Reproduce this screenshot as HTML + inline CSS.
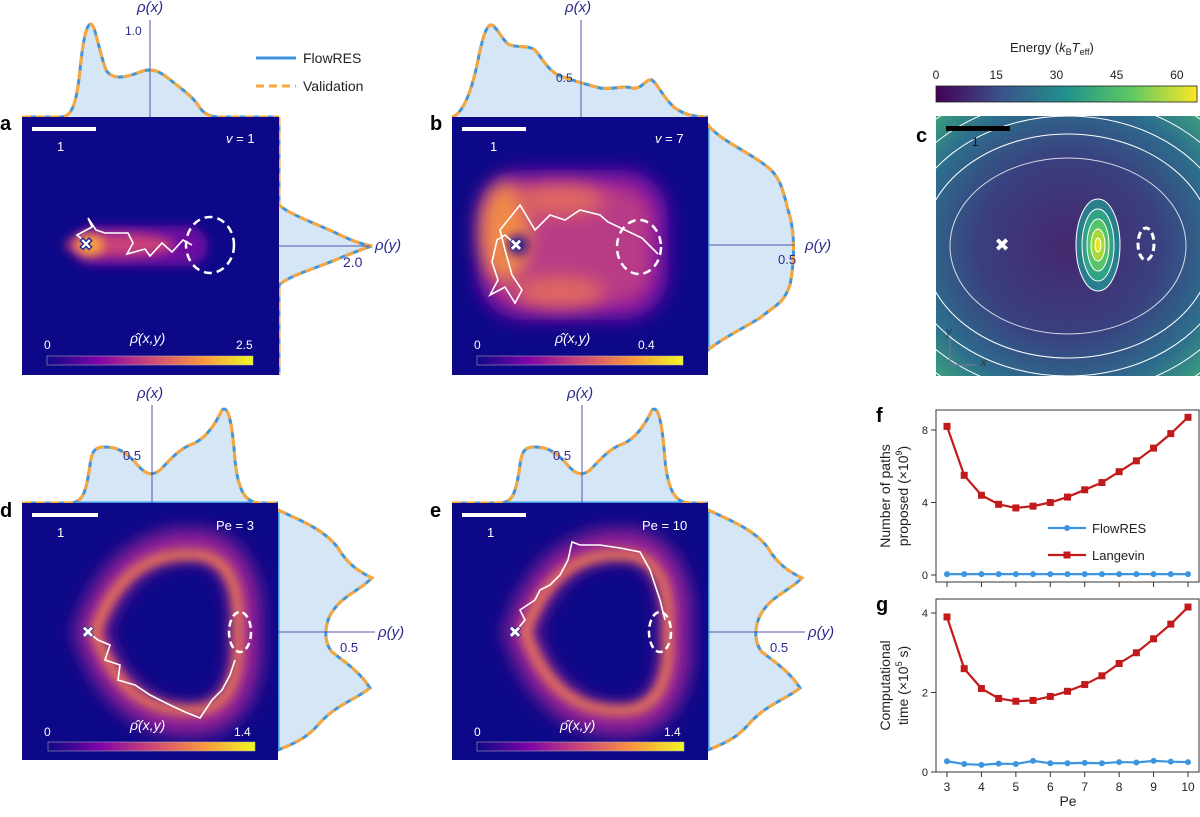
<!DOCTYPE html>
<html><head><meta charset="utf-8"><style>
body{margin:0;background:#fff;font-family:"Liberation Sans",sans-serif}
svg text{font-family:"Liberation Sans",sans-serif}
</style></head><body>
<svg id="fig" width="1200" height="812" viewBox="0 0 1200 812" xmlns="http://www.w3.org/2000/svg">
<defs>
<linearGradient id="plasma" x1="0" x2="1"><stop offset="0" stop-color="#0d0887"/><stop offset="0.25" stop-color="#7e03a8"/><stop offset="0.5" stop-color="#cc4778"/><stop offset="0.75" stop-color="#f89540"/><stop offset="1" stop-color="#f0f921"/></linearGradient>
<linearGradient id="viridis" x1="0" x2="1"><stop offset="0" stop-color="#440154"/><stop offset="0.25" stop-color="#3b528b"/><stop offset="0.5" stop-color="#21918c"/><stop offset="0.75" stop-color="#5ec962"/><stop offset="1" stop-color="#fde725"/></linearGradient>
<radialGradient id="cbg" cx="0.5" cy="0.5" r="0.75"><stop offset="0" stop-color="#45286e"/><stop offset="0.45" stop-color="#3a3f7e"/><stop offset="0.75" stop-color="#2d6d8d"/><stop offset="1" stop-color="#3fae7a"/></radialGradient>
<filter id="blur" x="-50%" y="-50%" width="200%" height="200%"><feGaussianBlur stdDeviation="9"/></filter>
<filter id="blur2" x="-50%" y="-50%" width="200%" height="200%"><feGaussianBlur stdDeviation="5"/></filter>
<clipPath id="ca"><rect x="22" y="117" width="257" height="258"/></clipPath>
<clipPath id="cb"><rect x="452" y="117" width="256" height="258"/></clipPath>
<clipPath id="cc"><rect x="936" y="116" width="264" height="260"/></clipPath>
<clipPath id="cd"><rect x="22" y="503" width="256" height="257"/></clipPath>
<clipPath id="ce"><rect x="452" y="503" width="256" height="257"/></clipPath>
</defs>

<g>
<line x1="256" y1="58" x2="296" y2="58" stroke="#3d95e0" stroke-width="3"/>
<text x="303" y="63" font-size="14" fill="#222">FlowRES</text>
<line x1="256" y1="86" x2="296" y2="86" stroke="#f9a63a" stroke-width="3" stroke-dasharray="8,5"/>
<text x="303" y="91" font-size="14" fill="#222">Validation</text>
</g>

<!-- Panel a -->
<g>
<text x="0" y="130" font-size="20" font-weight="bold">a</text>
<path d="M22,117 L60,117 C70,117 76,110 80,70 C84,30 88,24 91,24 C95,24 100,55 106,70 C112,80 125,78 140,72 C150,68 158,70 168,78 C180,88 192,95 200,108 C205,115 212,117 220,117 L279,117 Z" fill="#d5e6f7"/>
<path d="M22,117 L60,117 C70,117 76,110 80,70 C84,30 88,24 91,24 C95,24 100,55 106,70 C112,80 125,78 140,72 C150,68 158,70 168,78 C180,88 192,95 200,108 C205,115 212,117 220,117 L279,117" fill="none" stroke="#3d95e0" stroke-width="3"/>
<path d="M22,117 L60,117 C70,117 76,110 80,70 C84,30 88,24 91,24 C95,24 100,55 106,70 C112,80 125,78 140,72 C150,68 158,70 168,78 C180,88 192,95 200,108 C205,115 212,117 220,117 L279,117" fill="none" stroke="#f9a63a" stroke-width="3" stroke-dasharray="9,5"/>
<line x1="150" y1="20" x2="150" y2="117" stroke="#5555aa" stroke-width="1"/>
<text x="125" y="35" font-size="12" fill="#2a2a8e">1.0</text>
<text x="137" y="12" font-size="15" font-style="italic" fill="#2a2a8e">ρ(x)</text>
<path d="M279,117 L279,205 C290,215 320,225 340,235 C355,242 365,245 372,246 C365,248 355,252 340,258 C320,267 290,275 279,285 L279,375 Z" fill="#d5e6f7"/>
<path d="M279,117 L279,205 C290,215 320,225 340,235 C355,242 365,245 372,246 C365,248 355,252 340,258 C320,267 290,275 279,285 L279,375" fill="none" stroke="#3d95e0" stroke-width="3"/>
<path d="M279,117 L279,205 C290,215 320,225 340,235 C355,242 365,245 372,246 C365,248 355,252 340,258 C320,267 290,275 279,285 L279,375" fill="none" stroke="#f9a63a" stroke-width="3" stroke-dasharray="9,5"/>
<line x1="279" y1="246" x2="370" y2="246" stroke="#5555aa"/>
<text x="343" y="267" font-size="14" fill="#2a2a8e">2.0</text>
<text x="375" y="250" font-size="15" font-style="italic" fill="#2a2a8e">ρ(y)</text>
<rect x="22" y="117" width="257" height="258" fill="#0d0887"/>
<g clip-path="url(#ca)">
<rect x="72" y="226" width="136" height="40" rx="20" fill="#6a0aa0" filter="url(#blur2)"/>
<ellipse cx="120" cy="245" rx="55" ry="12" fill="#c8407a" filter="url(#blur2)"/>
<ellipse cx="90" cy="245" rx="14" ry="11" fill="#f6a03c" filter="url(#blur2)"/>
</g>
<polyline points="88,244 77,235 92,227 88,218 96,230 105,233 128,233 133,243 127,254 145,249 150,256 162,243 172,252 183,240 192,245" fill="none" stroke="#fff" stroke-width="1.6"/>
<ellipse cx="210" cy="245" rx="24" ry="28" fill="none" stroke="#fff" stroke-width="2.5" stroke-dasharray="8,5"/>
<text x="86" y="250" font-size="17" fill="#fff" stroke="#2a2a8e" stroke-width="0.8" text-anchor="middle" font-weight="bold">✖</text>
<rect x="32" y="127" width="64" height="4" fill="#fff"/>
<text x="57" y="151" font-size="13" fill="#fff">1</text>
<text x="226" y="143" font-size="13" fill="#fff" font-style="italic">v<tspan font-style="normal"> = 1</tspan></text>
<text x="130" y="343" font-size="14" fill="#fff" font-style="italic">ρ̂(x,y)</text>
<text x="44" y="349" font-size="12" fill="#fff">0</text><text x="236" y="349" font-size="12" fill="#fff">2.5</text>
<rect x="47" y="356" width="206" height="9" fill="url(#plasma)" stroke="#bbb" stroke-width="0.5"/>
</g>

<!-- Panel b -->
<g>
<text x="430" y="130" font-size="20" font-weight="bold">b</text>
<path d="M452,117 C460,115 470,100 478,60 C484,30 488,24 492,25 C498,28 503,42 510,45 C520,48 528,45 535,50 C542,58 548,70 558,75 C570,80 585,84 600,88 C615,90 622,85 632,88 C642,90 646,78 652,80 C658,84 663,98 675,108 C685,115 695,117 708,117" fill="#d5e6f7" stroke="#3d95e0" stroke-width="3"/>
<path d="M452,117 C460,115 470,100 478,60 C484,30 488,24 492,25 C498,28 503,42 510,45 C520,48 528,45 535,50 C542,58 548,70 558,75 C570,80 585,84 600,88 C615,90 622,85 632,88 C642,90 646,78 652,80 C658,84 663,98 675,108 C685,115 695,117 708,117" fill="none" stroke="#f9a63a" stroke-width="3" stroke-dasharray="9,5"/>
<line x1="581" y1="20" x2="581" y2="117" stroke="#5555aa"/>
<text x="556" y="82" font-size="12" fill="#2a2a8e">0.5</text>
<text x="565" y="12" font-size="15" font-style="italic" fill="#2a2a8e">ρ(x)</text>
<path d="M708,125 C720,140 745,150 765,165 C780,175 783,190 788,210 C795,230 795,260 790,285 C783,305 775,305 760,318 C740,330 720,340 708,350 Z" fill="#d5e6f7" stroke="#3d95e0" stroke-width="3"/>
<path d="M708,125 C720,140 745,150 765,165 C780,175 783,190 788,210 C795,230 795,260 790,285 C783,305 775,305 760,318 C740,330 720,340 708,350" fill="none" stroke="#f9a63a" stroke-width="3" stroke-dasharray="9,5"/>
<line x1="708" y1="245" x2="795" y2="245" stroke="#5555aa"/>
<text x="778" y="264" font-size="13" fill="#2a2a8e">0.5</text>
<text x="805" y="250" font-size="15" font-style="italic" fill="#2a2a8e">ρ(y)</text>
<rect x="452" y="117" width="256" height="258" fill="#0d0887"/>
<g clip-path="url(#cb)">
<rect x="478" y="170" width="190" height="150" rx="45" fill="#7a0aa5" filter="url(#blur)"/>
<rect x="488" y="185" width="165" height="120" rx="35" fill="#b83a86" filter="url(#blur)"/>
<ellipse cx="505" cy="232" rx="25" ry="50" fill="#f08a48" filter="url(#blur)"/>
<ellipse cx="560" cy="200" rx="45" ry="16" fill="#df6860" filter="url(#blur)"/>
<ellipse cx="560" cy="292" rx="45" ry="16" fill="#df6860" filter="url(#blur)"/>
<ellipse cx="518" cy="245" rx="10" ry="10" fill="#2a1090" filter="url(#blur2)"/>
</g>
<polyline points="516,245 505,235 497,240 492,262 498,280 490,295 505,287 515,303 522,290 512,275 505,250 500,230 520,205 535,230 550,215 565,220 580,210 600,215 608,222 625,230 642,238 658,254" fill="none" stroke="#fff" stroke-width="1.6"/>
<ellipse cx="639" cy="247" rx="22" ry="27" fill="none" stroke="#fff" stroke-width="2.5" stroke-dasharray="8,5"/>
<text x="516" y="251" font-size="17" fill="#fff" stroke="#2a2a8e" stroke-width="0.8" text-anchor="middle">✖</text>
<rect x="462" y="127" width="64" height="4" fill="#fff"/>
<text x="490" y="151" font-size="13" fill="#fff">1</text>
<text x="655" y="143" font-size="13" fill="#fff" font-style="italic">v<tspan font-style="normal"> = 7</tspan></text>
<text x="555" y="343" font-size="14" fill="#fff" font-style="italic">ρ̂(x,y)</text>
<text x="474" y="349" font-size="12" fill="#fff">0</text><text x="638" y="349" font-size="12" fill="#fff">0.4</text>
<rect x="477" y="356" width="206" height="9" fill="url(#plasma)" stroke="#bbb" stroke-width="0.5"/>
</g>

<!-- Panel c -->
<g>
<text x="1010" y="52" font-size="13" fill="#222">Energy (<tspan font-style="italic">k</tspan><tspan font-size="9" dy="3">B</tspan><tspan dy="-3" font-style="italic">T</tspan><tspan font-size="9" dy="3">eff</tspan><tspan dy="-3">)</tspan></text>
<rect x="936" y="86" width="261" height="16" fill="url(#viridis)" stroke="#222" stroke-width="0.8"/>
<text x="916" y="142" font-size="20" font-weight="bold">c</text>
<rect x="936" y="116" width="264" height="260" fill="url(#cbg)"/>
<g clip-path="url(#cc)" fill="none" stroke="#fff" stroke-width="1">
<ellipse cx="1068" cy="246" rx="118" ry="88" opacity="0.8"/>
<ellipse cx="1068" cy="246" rx="145" ry="112"/>
<ellipse cx="1068" cy="246" rx="165" ry="130"/>
<ellipse cx="1068" cy="246" rx="185" ry="148"/>
<ellipse cx="1068" cy="246" rx="205" ry="166"/>
<ellipse cx="1098" cy="245" rx="22" ry="46" fill="#2a7f8e"/>
<ellipse cx="1098" cy="245" rx="16" ry="36" fill="#2fa384"/>
<ellipse cx="1098" cy="245" rx="11" ry="26" fill="#58c46a"/>
<ellipse cx="1098" cy="245" rx="7" ry="16" fill="#a8d93a"/>
<ellipse cx="1098" cy="245" rx="3" ry="7" fill="#e8e528"/>
</g>
<ellipse cx="1146" cy="244" rx="8" ry="16" fill="none" stroke="#fff" stroke-width="3" stroke-dasharray="7,4"/>
<text x="1002" y="251" font-size="18" fill="#fff" text-anchor="middle">✖</text>
<rect x="946" y="126" width="64" height="5" fill="#000"/>
<text x="972" y="146" font-size="12" fill="#111">1</text>
<path d="M950,365 L950,338 M950,365 L977,365" stroke="#6a7a8a" stroke-width="1.3" fill="none"/>
<text x="946" y="335" font-size="11" font-style="italic" fill="#333">y</text>
<text x="981" y="366" font-size="11" font-style="italic" fill="#333">x</text>
</g>

<!-- Panel d -->
<g>
<text x="0" y="517" font-size="20" font-weight="bold">d</text>
<path d="M22,503 L70,503 C82,502 86,495 90,465 C92,450 95,447 105,447 C118,447 125,452 135,462 C143,472 150,478 160,470 C170,460 178,450 190,445 C205,440 215,425 222,410 C228,405 232,420 235,460 C238,490 245,503 260,503 L278,503 Z" fill="#d5e6f7" stroke="#3d95e0" stroke-width="3"/>
<path d="M22,503 L70,503 C82,502 86,495 90,465 C92,450 95,447 105,447 C118,447 125,452 135,462 C143,472 150,478 160,470 C170,460 178,450 190,445 C205,440 215,425 222,410 C228,405 232,420 235,460 C238,490 245,503 260,503 L278,503" fill="none" stroke="#f9a63a" stroke-width="3" stroke-dasharray="9,5"/>
<line x1="152" y1="405" x2="152" y2="503" stroke="#5555aa"/>
<text x="123" y="460" font-size="13" fill="#2a2a8e">0.5</text>
<text x="137" y="398" font-size="15" font-style="italic" fill="#2a2a8e">ρ(x)</text>
<path d="M278,510 C300,520 325,530 338,548 C348,565 360,572 372,578 C360,590 345,595 335,608 C325,620 322,640 332,652 C345,662 360,672 370,688 C355,700 335,705 318,725 C305,740 290,745 278,750 Z" fill="#d5e6f7" stroke="#3d95e0" stroke-width="3"/>
<path d="M278,510 C300,520 325,530 338,548 C348,565 360,572 372,578 C360,590 345,595 335,608 C325,620 322,640 332,652 C345,662 360,672 370,688 C355,700 335,705 318,725 C305,740 290,745 278,750" fill="none" stroke="#f9a63a" stroke-width="3" stroke-dasharray="9,5"/>
<line x1="278" y1="632" x2="375" y2="632" stroke="#5555aa"/>
<text x="340" y="652" font-size="13" fill="#2a2a8e">0.5</text>
<text x="378" y="637" font-size="15" font-style="italic" fill="#2a2a8e">ρ(y)</text>
<rect x="22" y="503" width="256" height="257" fill="#0d0887"/>
<g clip-path="url(#cd)">
<path d="M90,632 C110,570 150,540 200,545 C240,550 250,600 245,632 C250,665 240,715 200,720 C150,725 110,695 90,632 Z" fill="none" stroke="#9a2096" stroke-width="30" filter="url(#blur)"/>
<path d="M95,632 C115,575 150,550 200,555 C235,560 240,600 238,632 C240,665 235,705 200,710 C150,715 115,690 95,632 Z" fill="none" stroke="#ef7b51" stroke-width="10" filter="url(#blur2)"/>
</g>
<polyline points="88,632 98,640 110,645 105,660 120,665 118,680 135,685 150,695 170,705 185,712 200,718 212,700 222,690 230,675 235,660" fill="none" stroke="#fff" stroke-width="1.6"/>
<ellipse cx="240" cy="632" rx="11" ry="20" fill="none" stroke="#fff" stroke-width="2.5" stroke-dasharray="7,4"/>
<text x="88" y="638" font-size="17" fill="#fff" stroke="#2a2a8e" stroke-width="0.8" text-anchor="middle">✖</text>
<rect x="32" y="513" width="66" height="4" fill="#fff"/>
<text x="57" y="537" font-size="13" fill="#fff">1</text>
<text x="216" y="530" font-size="13" fill="#fff">Pe = 3</text>
<text x="130" y="730" font-size="14" fill="#fff" font-style="italic">ρ̂(x,y)</text>
<text x="44" y="736" font-size="12" fill="#fff">0</text><text x="234" y="736" font-size="12" fill="#fff">1.4</text>
<rect x="48" y="742" width="207" height="9" fill="url(#plasma)" stroke="#bbb" stroke-width="0.5"/>
</g>

<!-- Panel e -->
<g>
<text x="430" y="517" font-size="20" font-weight="bold">e</text>
<path d="M452,503 L500,503 C512,502 516,495 520,465 C522,450 525,447 535,447 C548,447 555,452 565,462 C573,472 580,478 590,470 C600,460 608,450 620,445 C635,440 645,425 652,410 C658,405 662,420 665,460 C668,490 675,503 690,503 L708,503 Z" fill="#d5e6f7" stroke="#3d95e0" stroke-width="3"/>
<path d="M452,503 L500,503 C512,502 516,495 520,465 C522,450 525,447 535,447 C548,447 555,452 565,462 C573,472 580,478 590,470 C600,460 608,450 620,445 C635,440 645,425 652,410 C658,405 662,420 665,460 C668,490 675,503 690,503 L708,503" fill="none" stroke="#f9a63a" stroke-width="3" stroke-dasharray="9,5"/>
<line x1="582" y1="405" x2="582" y2="503" stroke="#5555aa"/>
<text x="553" y="460" font-size="13" fill="#2a2a8e">0.5</text>
<text x="567" y="398" font-size="15" font-style="italic" fill="#2a2a8e">ρ(x)</text>
<path d="M708,510 C730,520 755,530 768,548 C778,565 790,572 802,578 C790,590 775,595 765,608 C755,620 752,640 762,652 C775,662 790,672 800,688 C785,700 765,705 748,725 C735,740 720,745 708,750 Z" fill="#d5e6f7" stroke="#3d95e0" stroke-width="3"/>
<path d="M708,510 C730,520 755,530 768,548 C778,565 790,572 802,578 C790,590 775,595 765,608 C755,620 752,640 762,652 C775,662 790,672 800,688 C785,700 765,705 748,725 C735,740 720,745 708,750" fill="none" stroke="#f9a63a" stroke-width="3" stroke-dasharray="9,5"/>
<line x1="708" y1="632" x2="805" y2="632" stroke="#5555aa"/>
<text x="770" y="652" font-size="13" fill="#2a2a8e">0.5</text>
<text x="808" y="637" font-size="15" font-style="italic" fill="#2a2a8e">ρ(y)</text>
<rect x="452" y="503" width="256" height="257" fill="#0d0887"/>
<g clip-path="url(#ce)">
<path d="M520,632 C540,570 580,540 630,545 C670,550 680,600 675,632 C680,665 670,715 630,720 C580,725 540,695 520,632 Z" fill="none" stroke="#9a2096" stroke-width="30" filter="url(#blur)"/>
<path d="M525,632 C545,575 580,550 630,555 C665,560 670,600 668,632 C670,665 665,705 630,710 C580,715 545,690 525,632 Z" fill="none" stroke="#ef7b51" stroke-width="10" filter="url(#blur2)"/>
</g>
<polyline points="515,632 525,620 520,610 535,600 540,590 550,585 560,575 568,560 572,542 580,545 600,545 620,548 640,552 650,570 660,600 665,620" fill="none" stroke="#fff" stroke-width="1.6"/>
<ellipse cx="660" cy="632" rx="11" ry="20" fill="none" stroke="#fff" stroke-width="2.5" stroke-dasharray="7,4"/>
<text x="515" y="638" font-size="17" fill="#fff" stroke="#2a2a8e" stroke-width="0.8" text-anchor="middle">✖</text>
<rect x="462" y="513" width="64" height="4" fill="#fff"/>
<text x="487" y="537" font-size="13" fill="#fff">1</text>
<text x="642" y="530" font-size="13" fill="#fff">Pe = 10</text>
<text x="560" y="730" font-size="14" fill="#fff" font-style="italic">ρ̂(x,y)</text>
<text x="474" y="736" font-size="12" fill="#fff">0</text><text x="664" y="736" font-size="12" fill="#fff">1.4</text>
<rect x="477" y="742" width="207" height="9" fill="url(#plasma)" stroke="#bbb" stroke-width="0.5"/>
</g>

<g id="fg"></g>
</svg>
<script>
const peValues=[3,3.5,4,4.5,5,5.5,6,6.5,7,7.5,8,8.5,9,9.5,10];
const pathsLangevin=[8.2,5.5,4.4,3.9,3.7,3.8,4.0,4.3,4.7,5.1,5.7,6.3,7.0,7.8,8.7];
const pathsFlowres=[0.05,0.05,0.05,0.05,0.05,0.05,0.05,0.05,0.05,0.05,0.05,0.05,0.05,0.05,0.05];
const timeLangevin=[3.9,2.6,2.1,1.85,1.78,1.8,1.9,2.03,2.2,2.42,2.73,3.0,3.35,3.72,4.15];
const timeFlowres=[0.27,0.2,0.18,0.21,0.2,0.28,0.22,0.22,0.23,0.22,0.25,0.24,0.28,0.26,0.25];
const xTicks=[3,4,5,6,7,8,9,10];
const fTicks=[0,4,8];
const gTicks=[0,2,4];
const energyTicks=[0,15,30,45,60];
const NS="http://www.w3.org/2000/svg";
const svg=document.getElementById('fig');
const fg=document.getElementById('fg');
function mk(tag,attrs,parent){const e=document.createElementNS(NS,tag);for(const k in attrs)e.setAttribute(k,attrs[k]);(parent||fg).appendChild(e);return e;}
const eScale=v=>936+v/65*261;
energyTicks.forEach(v=>{const t=mk('text',{x:eScale(v),y:79,'font-size':12,'text-anchor':'middle',fill:'#222'},svg);t.textContent=v;

});
const xS=v=>947+(v-3)/7*241;
function panel(y0,y1,yZero,yTopVal,yTopPix,ticks,lang,flow,label,ylab1,ylab2,sup,showX){
  const yS=v=>yZero-(v/yTopVal)*(yZero-yTopPix);
  mk('rect',{x:936,y:y0,width:263,height:y1-y0,fill:'none',stroke:'#333','stroke-width':1});
  ticks.forEach(v=>{mk('line',{x1:931,x2:936,y1:yS(v),y2:yS(v),stroke:'#333'});const t=mk('text',{x:928,y:yS(v)+4,'font-size':11,'text-anchor':'end',fill:'#222'});t.textContent=v;
  
  });
  xTicks.forEach(v=>{mk('line',{x1:xS(v),x2:xS(v),y1:y1,y2:y1+5,stroke:'#333'});if(showX){const t=mk('text',{x:xS(v),y:y1+19,'font-size':12,'text-anchor':'middle',fill:'#222'});t.textContent=v;
  
  }});
  const lp=mk('polyline',{points:peValues.map((p,i)=>xS(p)+','+yS(lang[i])).join(' '),fill:'none',stroke:'#c21a1a','stroke-width':2.2});
  
  
  const fp=mk('polyline',{points:peValues.map((p,i)=>xS(p)+','+yS(flow[i])).join(' '),fill:'none',stroke:'#3d95e0','stroke-width':2.2});
  
  
  peValues.forEach((p,i)=>{const r=mk('rect',{x:xS(p)-3.5,y:yS(lang[i])-3.5,width:7,height:7,fill:'#c21a1a'});
  
  
  const c=mk('circle',{cx:xS(p),cy:yS(flow[i]),r:3,fill:'#3d95e0'});
  
  });
  const lb=mk('text',{x:876,y:y0+12,'font-size':20,'font-weight':'bold'});lb.textContent=label;
  
  
  const cy=(y0+y1)/2;
  const t1=mk('text',{x:0,y:0,'font-size':14,'text-anchor':'middle',fill:'#222',transform:`translate(890,${cy}) rotate(-90)`});t1.textContent=ylab1;
  
  
  const t2=mk('text',{x:0,y:0,'font-size':14,'text-anchor':'middle',fill:'#222',transform:`translate(908,${cy}) rotate(-90)`});
  
  
  t2.innerHTML=ylab2+' (×10<tspan font-size="9" dy="-6">'+sup+'</tspan><tspan dy="6">'+(label==='g'?' s)':')')+'</tspan>';
}
panel(410,582,575,8,430,fTicks,pathsLangevin,pathsFlowres,'f','Number of paths','proposed','9',false);
panel(599,772,772,4,613,gTicks,timeLangevin,timeFlowres,'g','Computational','time','5',true);
const xl=mk('text',{x:1068,y:806,'font-size':14,'text-anchor':'middle',fill:'#222'});xl.textContent='Pe';


mk('line',{x1:1048,x2:1086,y1:528,y2:528,stroke:'#3d95e0','stroke-width':2.2});
mk('circle',{cx:1067,cy:528,r:3,fill:'#3d95e0'});
const l1=mk('text',{x:1092,y:533,'font-size':13,fill:'#222'});l1.textContent='FlowRES';


mk('line',{x1:1048,x2:1086,y1:555,y2:555,stroke:'#c21a1a','stroke-width':2.2});
mk('rect',{x:1063.5,y:551.5,width:7,height:7,fill:'#c21a1a'});
const l2=mk('text',{x:1092,y:560,'font-size':13,fill:'#222'});l2.textContent='Langevin';


</script>
</body></html>
